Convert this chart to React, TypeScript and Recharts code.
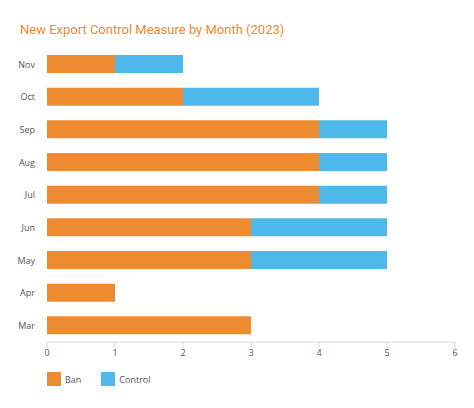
import React from "react";
import { BarChart, Bar, XAxis, YAxis } from "recharts";

const months = ["Nov", "Oct", "Sep", "Aug", "Jul", "Jun", "May", "Apr", "Mar"];
const banValues = [1, 2, 4, 4, 4, 3, 3, 1, 3];
const controlValues = [1, 2, 1, 1, 1, 2, 2, 0, 0];
const xTicks = [0, 1, 2, 3, 4, 5, 6];
const seriesNames = ["Ban", "Control"];
const seriesColors = ["#EE8A2F", "#4DB8EA"];

const data = months.map((m, i) => ({
  month: m,
  Ban: banValues[i],
  Control: controlValues[i],
}));

export default function App() {
  return (
    <div
      style={{
        position: "absolute",
        left: 0,
        top: 0,
        width: 474,
        height: 408,
        background: "#fff",
        fontFamily: "'Open Sans', sans-serif",
      }}
    >
      <div
        style={{
          position: "absolute",
          left: 20,
          top: 20,
          fontSize: 13,
          fontWeight: 400,
          color: "#EE8A2F",
          fontFamily: "Roboto, sans-serif",
          lineHeight: "20px",
          whiteSpace: "nowrap",
        }}
      >
        New Export Control Measure by Month (2023)
      </div>
      <BarChart
        width={474}
        height={408}
        data={data}
        layout="vertical"
        margin={{ top: 48, right: 19, left: 0, bottom: 36 }}
        barSize={18}
      >
        <XAxis
          type="number"
          domain={[0, 6]}
          ticks={xTicks}
          height={30}
          axisLine={{ stroke: "#D9D9D9" }}
          tickLine={{ stroke: "#D9D9D9" }}
          tick={{ fill: "#555", fontSize: 9 }}
          interval={0}
        />
        <YAxis
          type="category"
          dataKey="month"
          width={47}
          axisLine={false}
          tickLine={false}
          tick={{ fill: "#555", fontSize: 9 }}
          tickMargin={6}
        />
        {seriesNames.map((s, i) => (
          <Bar
            key={s}
            dataKey={s}
            stackId="a"
            fill={seriesColors[i]}
            isAnimationActive={false}
          />
        ))}
      </BarChart>
      <div
        style={{
          position: "absolute",
          left: 47,
          top: 372,
          display: "flex",
          alignItems: "center",
          fontSize: 9,
          color: "#555",
        }}
      >
        {seriesNames.map((s, i) => (
          <div
            key={s}
            style={{ display: "flex", alignItems: "center", marginRight: 20 }}
          >
            <div
              style={{
                width: 14,
                height: 14,
                background: seriesColors[i],
                marginRight: 4,
              }}
            />
            <span>{s}</span>
          </div>
        ))}
      </div>
    </div>
  );
}
